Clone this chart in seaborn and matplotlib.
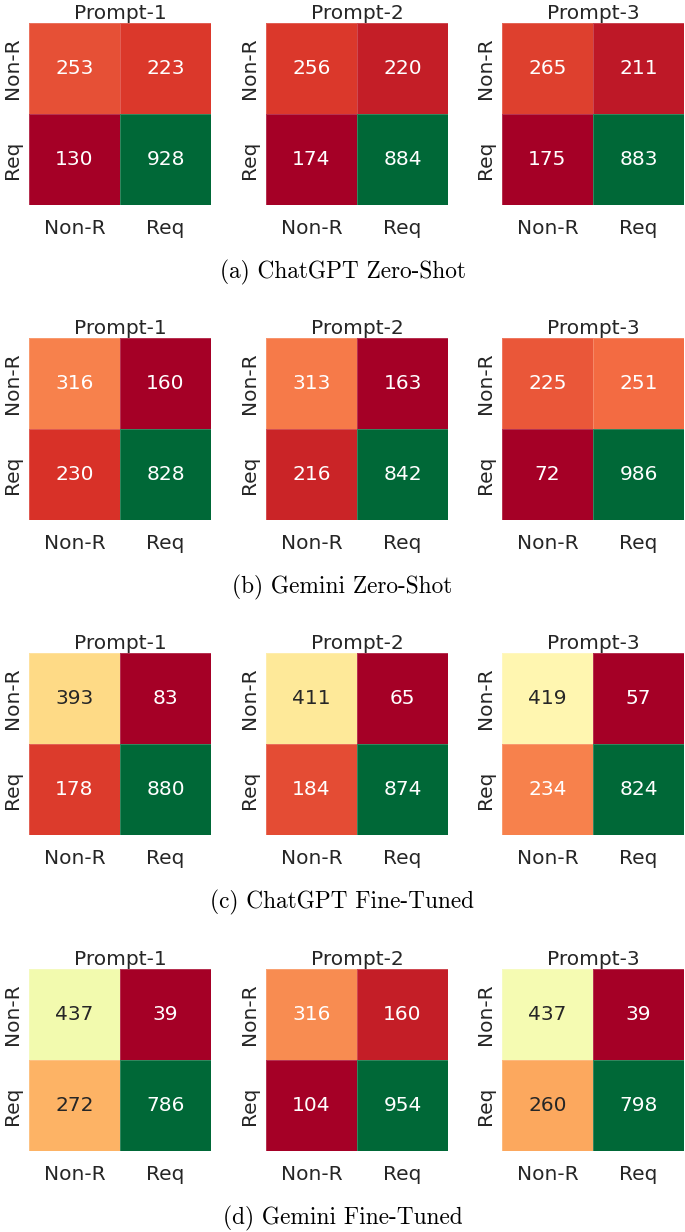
import numpy as np
import pandas as pd
import seaborn as sns
import matplotlib
matplotlib.use("Agg")
import matplotlib.pyplot as plt

labels = ["Non-R", "Req"]
prompts = ["Prompt-1", "Prompt-2", "Prompt-3"]
captions = ["(a) ChatGPT Zero-Shot", "(b) Gemini Zero-Shot",
            "(c) ChatGPT Fine-Tuned", "(d) Gemini Fine-Tuned"]

chatgpt_zero = [[[253, 223], [130, 928]],
                [[256, 220], [174, 884]],
                [[265, 211], [175, 883]]]
gemini_zero = [[[316, 160], [230, 828]],
               [[313, 163], [216, 842]],
               [[225, 251], [72, 986]]]
chatgpt_ft = [[[393, 83], [178, 880]],
              [[411, 65], [184, 874]],
              [[419, 57], [234, 824]]]
gemini_ft = [[[437, 39], [272, 786]],
             [[316, 160], [104, 954]],
             [[437, 39], [260, 798]]]

groups = [chatgpt_zero, gemini_zero, chatgpt_ft, gemini_ft]

sns.set_theme(style="white")
plt.rcParams['font.family'] = ['DejaVu Sans']

W, H = 685, 1232
fig = plt.figure(figsize=(W / 100, H / 100), dpi=100)

col_x = [29, 266, 502]
row_y = [23, 338, 653, 969]
size = 182
fs = 14.5

for r, grp in enumerate(groups):
    for c, mat in enumerate(grp):
        x0, y0 = col_x[c], row_y[r]
        ax = fig.add_axes([x0 / W, 1 - (y0 + size) / H, size / W, size / H])
        df = pd.DataFrame(mat, index=labels, columns=labels)
        sns.heatmap(df, annot=True, fmt="d", cmap="RdYlGn", cbar=False, ax=ax,
                    annot_kws={"fontsize": fs}, linewidths=0.5,
                    linecolor=(1, 1, 1, 0.2), square=False)
        ax.set_title(prompts[c], fontsize=fs, color="#262626", pad=3)
        ax.tick_params(axis="both", length=0, labelsize=fs, colors="#262626")
        ax.tick_params(axis="x", pad=10)
        ax.tick_params(axis="y", pad=5)
        ax.set_yticklabels(labels, rotation=90, va="center")
        ax.set_xticklabels(labels, rotation=0)
    cy = row_y[r] + 249
    fig.text(0.5, 1 - cy / H, captions[r], ha="center", va="center",
             fontsize=16.8, family="cmr10", color="black")

fig.savefig("out.png", dpi=100)
